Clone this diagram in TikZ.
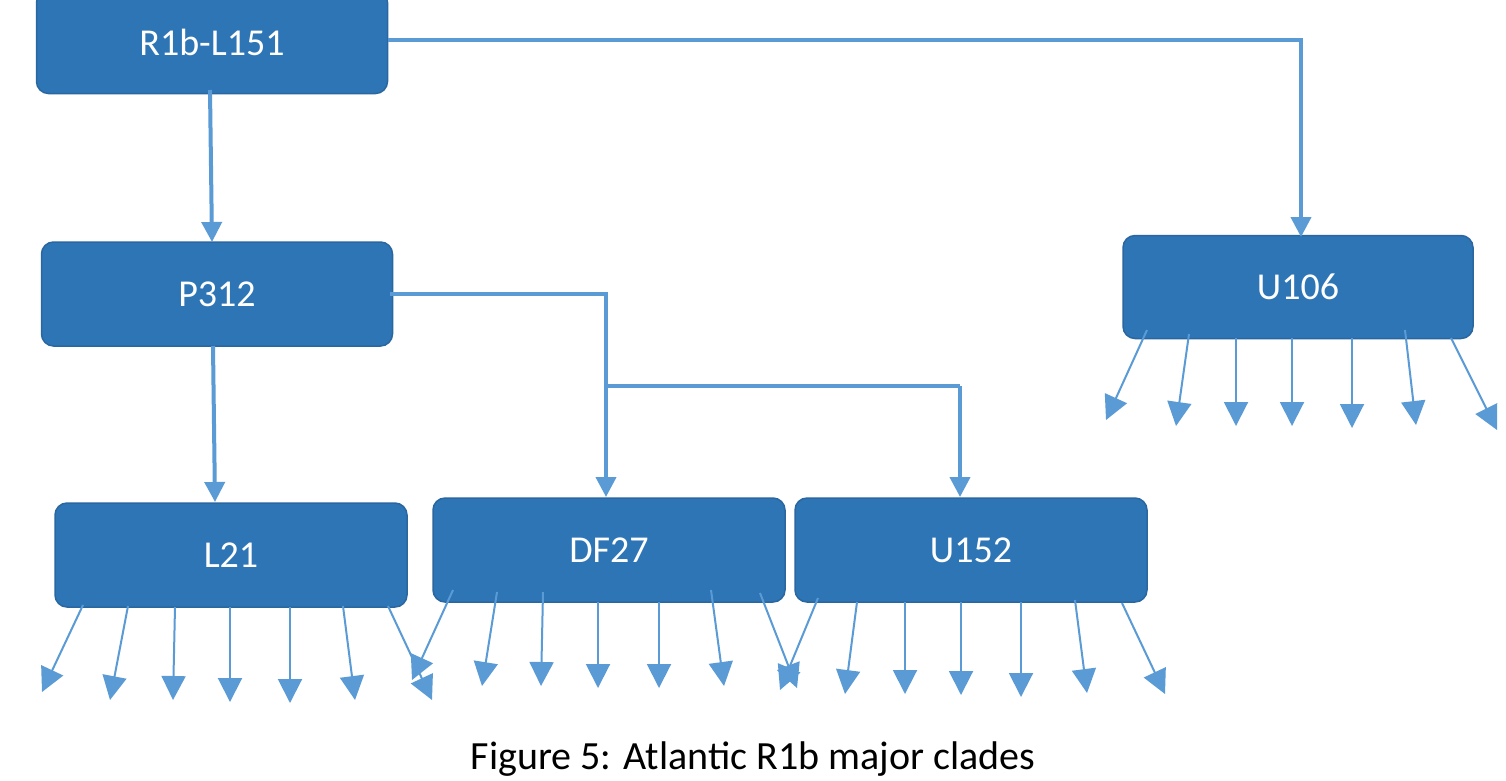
\documentclass[tikz,border=0pt]{standalone}
\usepackage{fontspec}
\setmainfont{Carlito}
\usetikzlibrary{arrows.meta}
\definecolor{boxfill}{HTML}{2E75B6}
\definecolor{boxline}{HTML}{2A66A0}
\definecolor{arr}{HTML}{5B9BD5}
\begin{document}
\begin{tikzpicture}[x=1pt,y=-1pt,
  hbox/.style={draw=boxline,line width=1.5pt,fill=boxfill,rounded corners=12pt,text=white,font=\fontsize{38}{40}\selectfont},
  link/.style={draw=arr,line width=4pt,-{Triangle[length=20pt,width=20pt]}},
  fan/.style={draw=arr,line width=2pt,-{Triangle[length=24pt,width=24pt]}}]
\useasboundingbox[fill=white] (0,0) rectangle (1506,780);
\begin{scope}
\clip (0,0) rectangle (1506,780);
\node[hbox,minimum width=351pt,minimum height=103pt] (r1b) at (212,42) {};
\node[text=white,font=\fontsize{38}{40}\selectfont] at (212,42) {R1b-L151};
\node[anchor=north,font=\fontsize{40}{42}\selectfont] (cap) at (753,738) {Figure 5: Atlantic R1b major clades};
\end{scope}
\node[hbox,minimum width=351pt,minimum height=104pt] (p312) at (217,294) {P312};
\node[hbox,minimum width=350pt,minimum height=103pt] (u106) at (1298,287) {U106};
\node[hbox,minimum width=352pt,minimum height=104pt] (l21) at (231,555) {L21};
\node[hbox,minimum width=352pt,minimum height=104pt] (df27) at (609,550) {DF27};
\node[hbox,minimum width=352pt,minimum height=104pt] (u152) at (971,550) {U152};
\coordinate (c1) at (1301,40);
\coordinate (c2) at (606,294);
\coordinate (c3) at (606,386);
\coordinate (c4) at (960,386);
\draw[link] (210,90) -- (212,242);
\draw[link] (388,40) -- (c1) -- (1301,237);
\draw[link] (213,346) -- (215,502);
\draw[link] (390,294) -- (c2) -- (606,497);
\draw[draw=arr,line width=4pt] (c3) -- (c4);
\draw[link] (c4) -- (960,497);
\foreach \a/\b/\c/\d in {83/605/42/692, 128/606/110/700, 175/607/173/700, 230/607/230/702, 290/607/290/703, 343/606/355/700, 388/606/432/700,
 453/590/412/680, 497/592/482/686, 543/592/541/686, 598/602/598/688, 659/602/659/688, 711/590/724/686, 760/593/797/688,
 818/598/780/690, 857/602/845/694, 905/602/905/694, 961/602/961/695, 1021/602/1021/697, 1075/600/1087/693, 1122/603/1165/694,
 1147/330/1106/420, 1189/334/1176/426, 1236/338/1236/426, 1292/338/1292/426, 1352/338/1352/428, 1405/330/1416/425, 1451/338/1497/430}
  \draw[fan] (\a,\b) -- (\c,\d);
\end{tikzpicture}
\end{document}
